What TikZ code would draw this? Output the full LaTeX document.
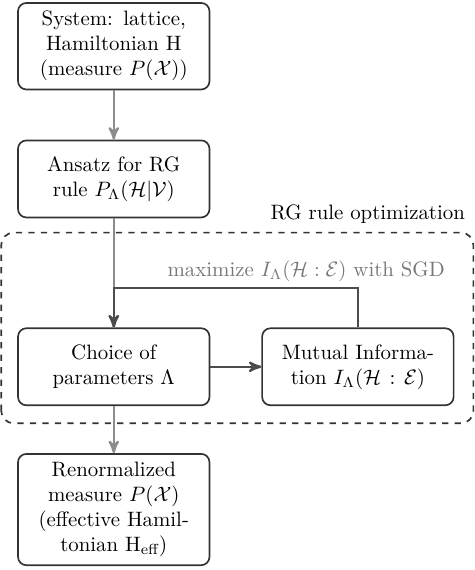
\documentclass[tikz,border=0pt]{standalone}
\usetikzlibrary{arrows,calc}
\usepackage{amssymb}
\usepackage{amsmath}
\newlength{\lw}
\setlength{\lw}{0.8pt}
\definecolor{flowgray}{gray}{0.55}
\definecolor{loopgray}{gray}{0.3}
\definecolor{boxgray}{gray}{0.2}
\tikzstyle{every picture}+=[>=stealth']
\tikzstyle{every picture}+=[line width=\lw]
\tikzstyle{every picture}+=[node distance=4em]
\tikzstyle{stage}=[draw=boxgray, fill=white, rounded corners=4pt]
\tikzstyle{stage}+=[text width=2.95cm, align=center, inner sep=4pt]
\tikzstyle{stage}+=[minimum height=1.3cm]
\tikzstyle{flow}=[->, color=flowgray, line width=1.1pt]
\tikzstyle{feedback}=[->, color=loopgray, line width=1.1pt]
\tikzstyle{optbox}=[draw=boxgray, dashed, rounded corners=6pt]
\newcommand{\mutinf}{I_\Lambda(\mathcal{H}:\mathcal{E})}

\begin{document}
\begin{tikzpicture}
\useasboundingbox (0,0) rectangle (8.0,-9.62);

\node[stage] (sys) at (1.92,-0.78) {System: lattice,\\ Hamiltonian H\\ (measure $P(\mathcal{X})$)};
\node[stage] (ansatz) [below of=sys, node distance=2.24cm] {Ansatz for RG\\ rule $P_\Lambda(\mathcal{H}|\mathcal{V})$};
\node[stage] (choice) [below of=ansatz, node distance=3.17cm] {Choice of\\ parameters $\Lambda$};
\node[stage] (mi) [right of=choice, node distance=4.12cm] {Mutual Informa-\\ tion $\mutinf$};
\node[stage] (renorm) [below of=choice, node distance=2.41cm] {Renormalized\\ measure $P(\mathcal{X})$\\ (effective Hamil-\\ tonian H$_\text{eff}$)};

% optimization frame
\coordinate (opt sw) at ($(choice.south west)+(-0.27,-0.29)$);
\coordinate (opt ne) at ($(mi.north east)+(0.32,1.6)$);
\draw[optbox] (opt sw) rectangle (opt ne);
\node[anchor=base east, inner sep=0pt] (optlabel) at ($(opt ne)+(-0.13,0.22)$) {RG rule optimization};

\path[flow]
   (sys) edge (ansatz)
   (ansatz) edge (choice)
   (choice) edge (renorm)
;

% SGD loop
\draw[feedback] (mi.north) -- ++(0,0.66) coordinate (turn) -| (choice.north);
\node[anchor=base east, inner sep=0pt, text=flowgray!85!black] (sgd) at ($(turn)+(1.48,0.2)$) {maximize $\mutinf$ with SGD};
\path[feedback] (choice) edge (mi);
\end{tikzpicture}
\end{document}
